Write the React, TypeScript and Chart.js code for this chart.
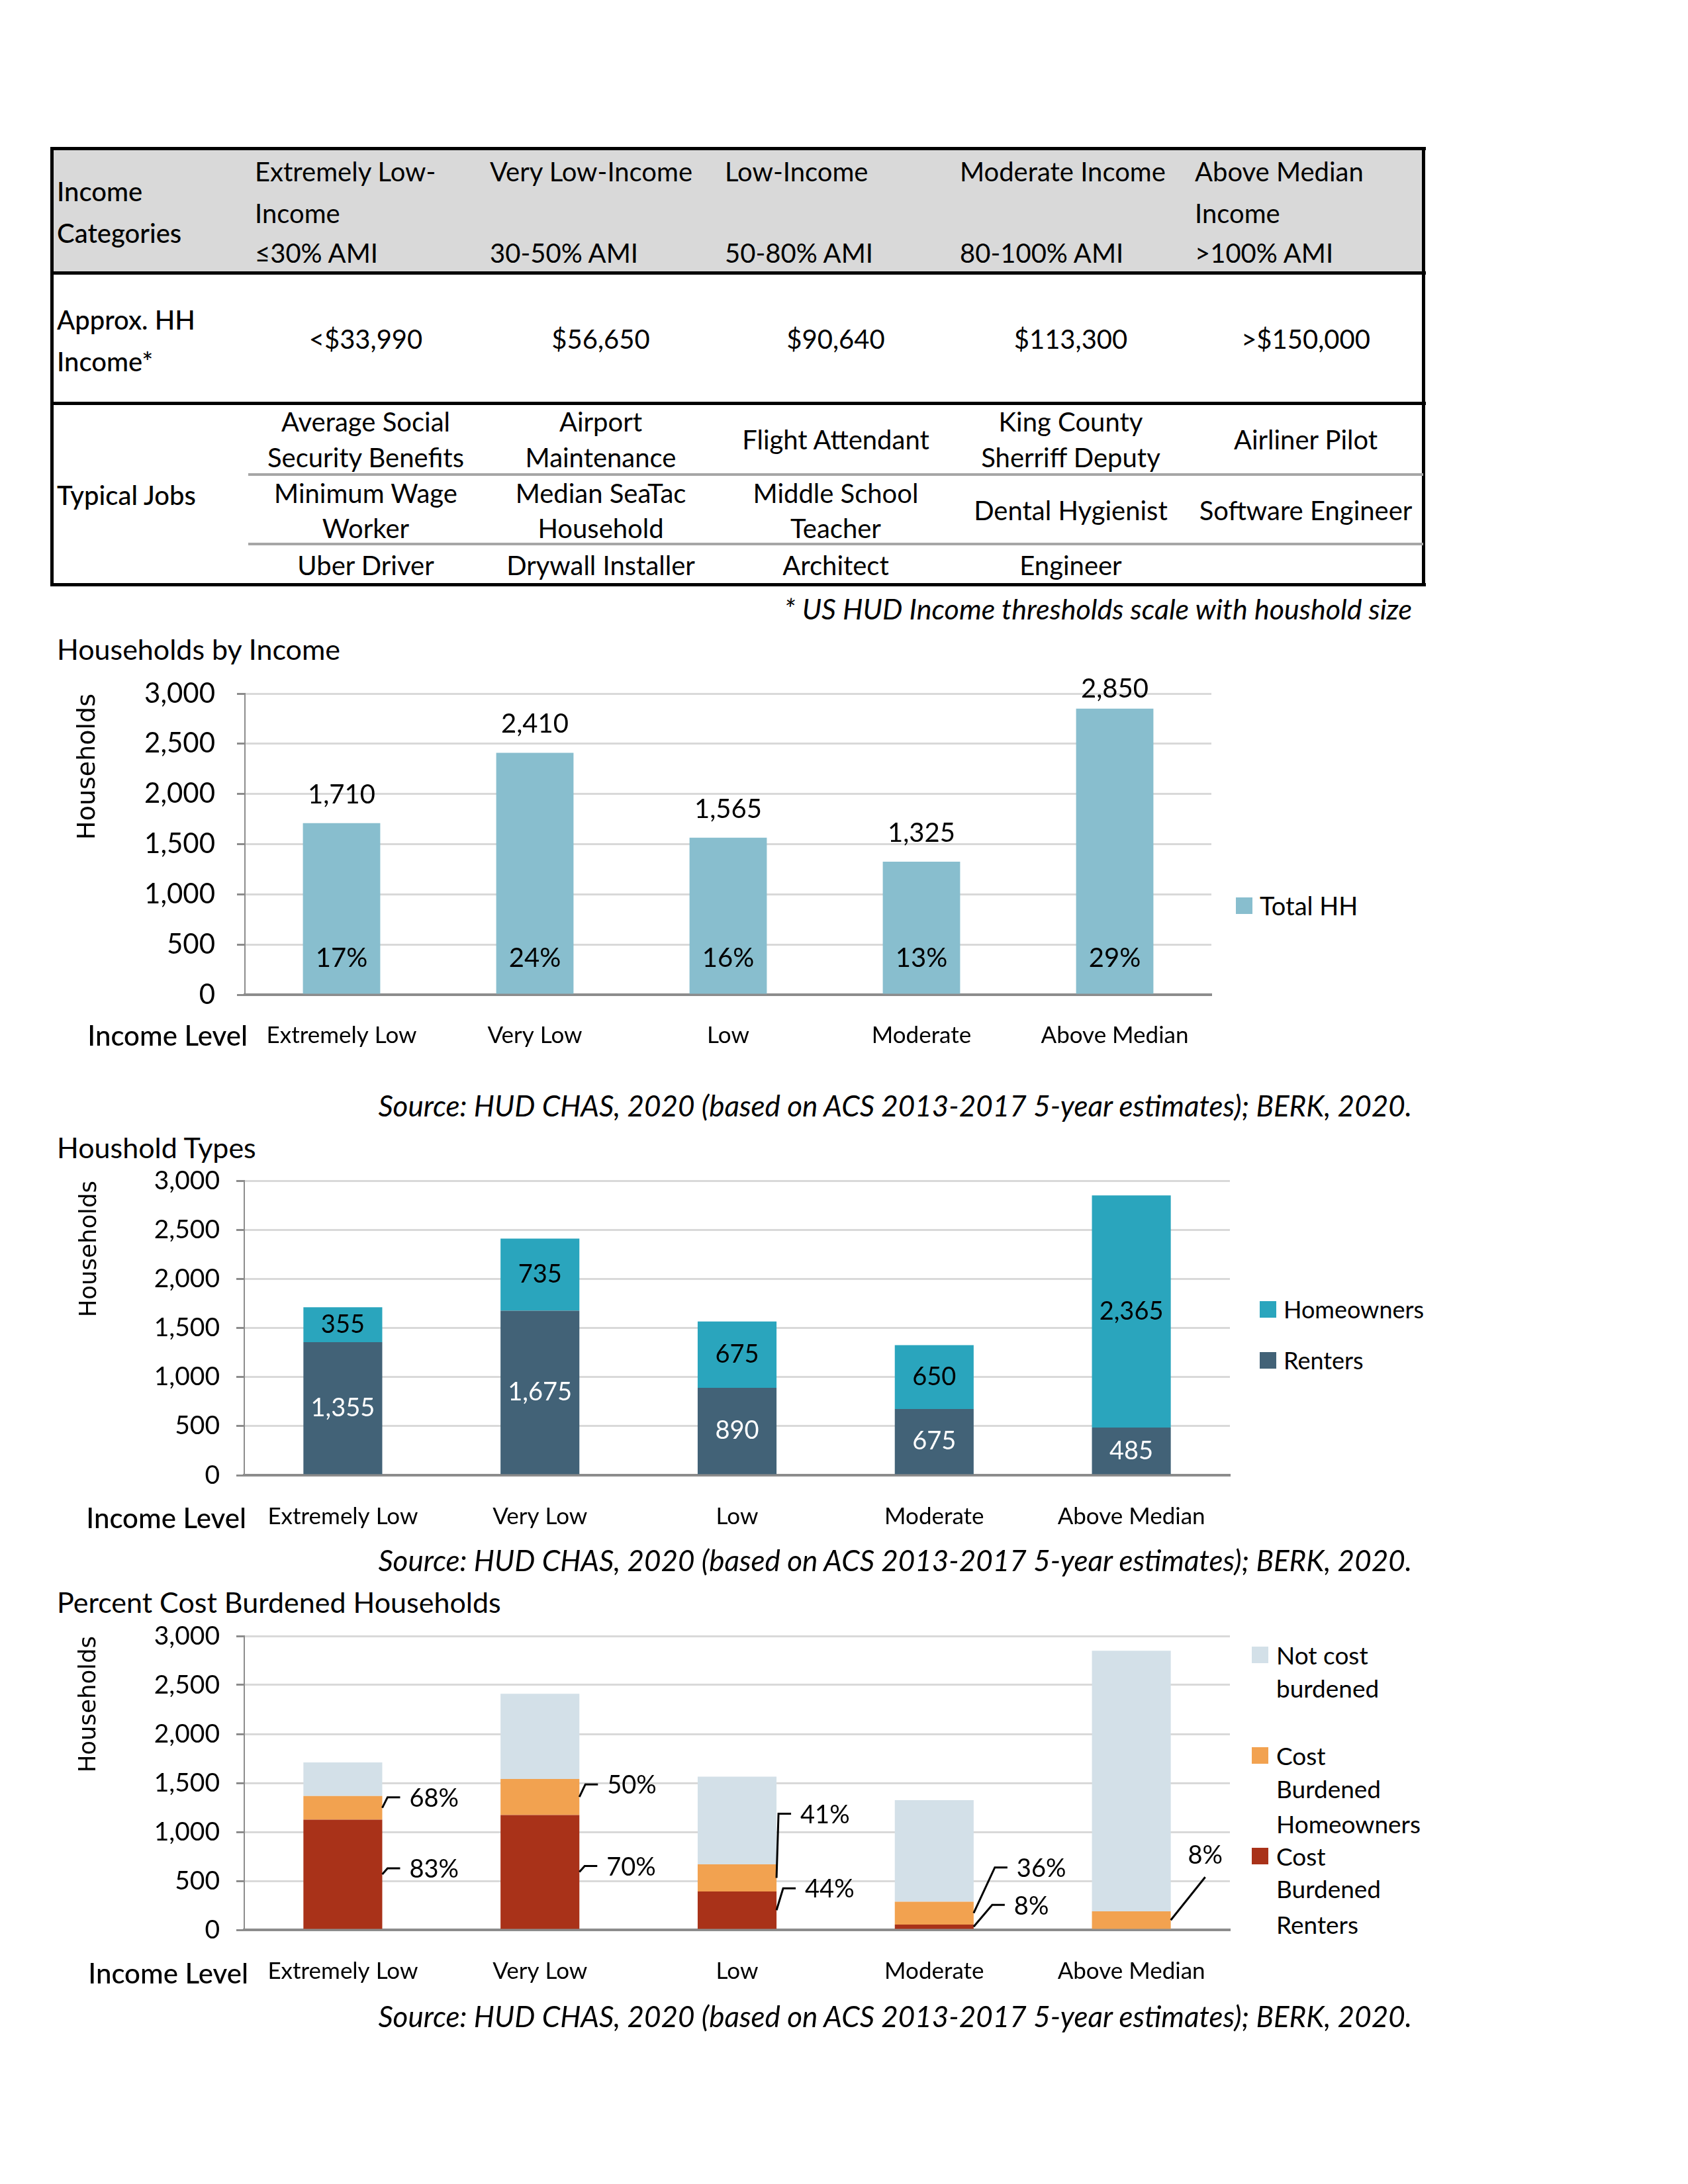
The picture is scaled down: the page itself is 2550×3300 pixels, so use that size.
import React, { useEffect, useRef } from 'react';
import { Chart, registerables } from 'chart.js';

Chart.register(...registerables);

const FONT = 'Lato, "Noto Sans", sans-serif';
const YTITLE_FONT = '"DejaVu Sans", sans-serif';
Chart.defaults.font.family = FONT;

// ---------------- data ----------------
const incomeLevels = ['Extremely Low', 'Very Low', 'Low', 'Moderate', 'Above Median'];
const totalHH = [1710, 2410, 1565, 1325, 2850];
const totalHHShare = ['17%', '24%', '16%', '13%', '29%'];

const renters = [1355, 1675, 890, 675, 485];
const homeowners = [355, 735, 675, 650, 2365];

const costBurdenedRenters = [1125, 1173, 392, 54, 0];
const costBurdenedOwners = [241, 368, 277, 234, 189];
const notCostBurdened = [344, 869, 896, 1037, 2661];
const renterBurdenPct = ['83%', '70%', '44%', '8%', ''];
const ownerBurdenPct = ['68%', '50%', '41%', '36%', '8%'];

const yMin = 0;
const yMax = 3000;
const yStep = 500;

// table
const categoryNames = [['Extremely Low-', 'Income'], ['Very Low-Income'], ['Low-Income'], ['Moderate Income'], ['Above Median', 'Income']];
const amiRanges = ['\u226430% AMI', '30-50% AMI', '50-80% AMI', '80-100% AMI', '>100% AMI'];
const hhIncome = ['<$33,990', '$56,650', '$90,640', '$113,300', '>$150,000'];
const jobsRow1 = [['Average Social', 'Security Benefits'], ['Airport', 'Maintenance'], ['Flight Attendant'], ['King County', 'Sherriff Deputy'], ['Airliner Pilot']];
const jobsRow2 = [['Minimum Wage', 'Worker'], ['Median SeaTac', 'Household'], ['Middle School', 'Teacher'], ['Dental Hygienist'], ['Software Engineer']];
const jobsRow3 = [['Uber Driver'], ['Drywall Installer'], ['Architect'], ['Engineer'], []];

const sourceText = 'Source: HUD CHAS, 2020 (based on ACS 2013-2017 5-year estimates); BERK, 2020.';

// ---------------- styles ----------------
const C_TOTAL = '#88bece';
const C_OWN = '#2aa5bd';
const C_RENT = '#426277';
const C_NOTCB = '#d3e0e8';
const C_CBOWN = '#f2a250';
const C_CBRENT = '#a93219';
const AXIS = '#8c8c8c';
const GRID = '#d9d9d9';

// leader-line layout for chart 3 labels (offsets, px)
const renterLeader: any[] = [{ bx: 8, dy: -9 }, { bx: 8, dy: -9 }, { bx: 10, dy: -33 }, { bx: 28, dy: -33 }, null];
const ownerLeader: any[] = [{ bx: 8, dy: -16 }, { bx: 9, dy: -19 }, { bx: 3, dy: -97 }, { bx: 32, dy: -69 }, { straight: true, dx: 52, dy: -65 }];

const fmt = (v: number) => v.toLocaleString('en-US');

function makeScales(o: any) {
  return {
    x: {
      stacked: o.stacked,
      grid: { display: false },
      border: { display: true, color: AXIS, width: 4 },
      ticks: { color: '#000', font: { size: o.xSize, lineHeight: 1.2 }, padding: o.xPad, maxRotation: 0, autoSkip: false },
      afterFit: (s: any) => {
        s.height = o.xHeight;
        s.paddingLeft = 0;
        s.paddingRight = 0;
      },
    },
    y: {
      stacked: o.stacked,
      min: yMin,
      max: yMax,
      ticks: { stepSize: yStep, color: '#000', font: { size: o.tickSize }, padding: o.tickPad, callback: (v: any) => fmt(Number(v)) },
      grid: {
        color: (c: any) => (c.tick && c.tick.value === 0 ? AXIS : GRID),
        lineWidth: 3,
        tickLength: 12,
        tickColor: AXIS,
        tickWidth: 3,
      },
      border: { display: true, color: AXIS, width: 2 },
      title: {
        display: true,
        text: 'Households',
        align: 'end',
        color: '#000',
        font: { family: YTITLE_FONT, size: o.titleSize, lineHeight: 1.2 },
        padding: { top: o.titlePad, bottom: 0 },
      },
      afterFit: (s: any) => {
        s.width = o.yWidth;
        s.paddingTop = 0;
        s.paddingBottom = 0;
      },
    },
  };
}

const baseOptions = (padTop: number, padRight: number) => ({
  responsive: false,
  animation: false,
  devicePixelRatio: 1,
  layout: { padding: { top: padTop, right: padRight, left: 0, bottom: 0 } },
  plugins: { legend: { display: false }, tooltip: { enabled: false } },
});

const totalLabels = {
  id: 'totalLabels',
  afterDatasetsDraw(chart: any) {
    const ctx = chart.ctx;
    const area = chart.chartArea;
    ctx.save();
    ctx.fillStyle = '#000';
    ctx.textAlign = 'center';
    ctx.textBaseline = 'middle';
    ctx.font = `40px ${FONT}`;
    chart.getDatasetMeta(0).data.forEach((bar: any, i: number) => {
      const p = bar.getProps(['x', 'y'], true);
      ctx.fillText(fmt(totalHH[i]), p.x, Math.max(p.y - 43, area.top - 7));
      ctx.fillText(totalHHShare[i], p.x, area.bottom - 55);
    });
    ctx.restore();
  },
};

const typeLabels = {
  id: 'typeLabels',
  afterDatasetsDraw(chart: any) {
    const ctx = chart.ctx;
    ctx.save();
    ctx.textAlign = 'center';
    ctx.textBaseline = 'middle';
    ctx.font = `38px ${FONT}`;
    const sets: [number, number[], string][] = [[0, renters, '#fff'], [1, homeowners, '#000']];
    sets.forEach(([di, vals, col]) => {
      ctx.fillStyle = col;
      chart.getDatasetMeta(di).data.forEach((bar: any, i: number) => {
        const p = bar.getProps(['x', 'y', 'base'], true);
        ctx.fillText(fmt(vals[i]), p.x, (p.y + p.base) / 2);
      });
    });
    ctx.restore();
  },
};

const burdenLabels = {
  id: 'burdenLabels',
  afterDatasetsDraw(chart: any) {
    const ctx = chart.ctx;
    ctx.save();
    ctx.strokeStyle = '#000';
    ctx.fillStyle = '#000';
    ctx.lineWidth = 3;
    ctx.font = `38px ${FONT}`;
    ctx.textBaseline = 'middle';
    const sets: [number, string[], any[]][] = [[0, renterBurdenPct, renterLeader], [1, ownerBurdenPct, ownerLeader]];
    sets.forEach(([di, texts, leaders]) => {
      chart.getDatasetMeta(di).data.forEach((bar: any, i: number) => {
        const t = texts[i];
        const L = leaders[i];
        if (!t || !L) return;
        const p = bar.getProps(['x', 'y', 'base', 'width'], true);
        const sx = p.x + p.width / 2;
        const sy = (p.y + p.base) / 2;
        ctx.beginPath();
        ctx.moveTo(sx, sy);
        if (L.straight) {
          const ex = sx + L.dx;
          const ey = sy + L.dy;
          ctx.lineTo(ex, ey);
          ctx.stroke();
          ctx.textAlign = 'center';
          ctx.fillText(t, ex, ey - 33);
        } else {
          const bx = sx + L.bx;
          const by = sy + L.dy;
          ctx.lineTo(bx, by);
          ctx.lineTo(bx + 19, by);
          ctx.stroke();
          ctx.textAlign = 'left';
          ctx.fillText(t, bx + 33, by + 2);
        }
      });
    });
    ctx.restore();
  },
};

const chart1Config = () => ({
  type: 'bar',
  data: {
    labels: incomeLevels,
    datasets: [{ label: 'Total HH', data: totalHH, backgroundColor: C_TOTAL, barPercentage: 0.4, categoryPercentage: 1 }],
  },
  options: {
    ...baseOptions(48, 30),
    scales: makeScales({ stacked: false, yWidth: 370, xHeight: 117, tickSize: 42, tickPad: 33, xSize: 35, xPad: 33, titleSize: 38, titlePad: 110 }),
  },
  plugins: [totalLabels],
});

const chart2Config = () => ({
  type: 'bar',
  data: {
    labels: incomeLevels,
    datasets: [
      { label: 'Renters', data: renters, backgroundColor: C_RENT, barPercentage: 0.4, categoryPercentage: 1 },
      { label: 'Homeowners', data: homeowners, backgroundColor: C_OWN, barPercentage: 0.4, categoryPercentage: 1 },
    ],
  },
  options: {
    ...baseOptions(44, 22),
    scales: makeScales({ stacked: true, yWidth: 369, xHeight: 131, tickSize: 39, tickPad: 25, xSize: 35, xPad: 34, titleSize: 35.5, titlePad: 114 }),
  },
  plugins: [typeLabels],
});

const chart3Config = () => ({
  type: 'bar',
  data: {
    labels: incomeLevels,
    datasets: [
      { label: 'Cost Burdened Renters', data: costBurdenedRenters, backgroundColor: C_CBRENT, barPercentage: 0.4, categoryPercentage: 1 },
      { label: 'Cost Burdened Homeowners', data: costBurdenedOwners, backgroundColor: C_CBOWN, barPercentage: 0.4, categoryPercentage: 1 },
      { label: 'Not cost burdened', data: notCostBurdened, backgroundColor: C_NOTCB, barPercentage: 0.4, categoryPercentage: 1 },
    ],
  },
  options: {
    ...baseOptions(42, 22),
    scales: makeScales({ stacked: true, yWidth: 369, xHeight: 134, tickSize: 39, tickPad: 25, xSize: 35, xPad: 34, titleSize: 35.5, titlePad: 113 }),
  },
  plugins: [burdenLabels],
});

function ChartBox({ left, top, width, height, make }: { left: number; top: number; width: number; height: number; make: () => any }) {
  const ref = useRef<HTMLCanvasElement>(null);
  useEffect(() => {
    if (!ref.current) return;
    const chart = new Chart(ref.current, make());
    return () => chart.destroy();
  }, []);
  return (
    <div style={{ position: 'absolute', left, top, width, height }}>
      <canvas ref={ref} width={width} height={height} style={{ display: 'block', width, height }} />
    </div>
  );
}

function Txt({ x, y, align = 'left', size = 40, weight = 400, italic = false, children }: any) {
  const tx = align === 'left' ? '0' : align === 'center' ? '-50%' : '-100%';
  return (
    <div
      style={{
        position: 'absolute',
        left: x,
        top: y,
        transform: `translate(${tx}, -50%)`,
        whiteSpace: 'nowrap',
        fontFamily: FONT,
        fontSize: size,
        fontWeight: weight,
        fontStyle: italic ? 'italic' : 'normal',
        lineHeight: 1,
        color: '#000',
      }}
    >
      {children}
    </div>
  );
}

function Box({ x, y, w, h, c }: any) {
  return <div style={{ position: 'absolute', left: x, top: y, width: w, height: h, background: c }} />;
}

const COL0 = 375;
const COLW = (2150 - 375) / 5;

function Table() {
  const centers = [0, 1, 2, 3, 4].map((i) => COL0 + COLW * i + COLW / 2);
  const multi = (lines: string[], cx: number, cy: number, gap: number) =>
    lines.map((s, k) => (
      <Txt key={s + k} x={cx} y={cy - ((lines.length - 1) * gap) / 2 + k * gap} align="center" size={40}>
        {s}
      </Txt>
    ));
  return (
    <>
      <Box x={78} y={224} w={2072} h={189} c="#d9d9d9" />
      <Box x={76} y={222} w={2078} h={5} c="#000" />
      <Box x={76} y={410} w={2078} h={5} c="#000" />
      <Box x={76} y={607} w={2078} h={5} c="#000" />
      <Box x={76} y={881} w={2078} h={5} c="#000" />
      <Box x={76} y={222} w={5} h={664} c="#000" />
      <Box x={2148} y={222} w={5} h={664} c="#000" />
      <Box x={375} y={715} w={1775} h={4} c="#a6a6a6" />
      <Box x={375} y={820} w={1775} h={4} c="#a6a6a6" />

      <Txt x={86} y={289} size={40} weight={500}>Income</Txt>
      <Txt x={86} y={352} size={40} weight={500}>Categories</Txt>
      {categoryNames.map((lines, i) => (
        <React.Fragment key={'h' + i}>
          <Txt x={COL0 + COLW * i + 10} y={259} size={40}>{lines[0]}</Txt>
          {lines[1] ? <Txt x={COL0 + COLW * i + 10} y={322} size={40}>{lines[1]}</Txt> : null}
          <Txt x={COL0 + COLW * i + 10} y={382} size={40}>{amiRanges[i]}</Txt>
        </React.Fragment>
      ))}

      <Txt x={86} y={483} size={40} weight={500}>Approx. HH</Txt>
      <Txt x={86} y={546} size={40} weight={500}>Income*</Txt>
      {hhIncome.map((s, i) => (
        <Txt key={'inc' + i} x={centers[i]} y={512} align="center" size={40}>{s}</Txt>
      ))}

      <Txt x={86} y={748} size={40} weight={500}>Typical Jobs</Txt>
      {jobsRow1.map((l, i) => <React.Fragment key={'j1' + i}>{multi(l, centers[i], 664, 54)}</React.Fragment>)}
      {jobsRow2.map((l, i) => <React.Fragment key={'j2' + i}>{multi(l, centers[i], 771, 53)}</React.Fragment>)}
      {jobsRow3.map((l, i) => <React.Fragment key={'j3' + i}>{multi(l, centers[i], 854, 53)}</React.Fragment>)}
    </>
  );
}

function Swatch({ x, y, c }: any) {
  return <div style={{ position: 'absolute', left: x, top: y - 12, width: 25, height: 25, background: c }} />;
}

export default function App() {
  return (
    <div style={{ position: 'absolute', left: 0, top: 0, width: 2550, height: 3300, background: '#fff', overflow: 'hidden' }}>
      <Table />
      <Txt x={2133} y={919} align="right" size={43} italic>* US HUD Income thresholds scale with houshold size</Txt>

      {/* Chart 1 */}
      <Txt x={86} y={980} size={43}>Households by Income</Txt>
      <ChartBox left={0} top={1000} width={1860} height={620} make={chart1Config} />
      <Txt x={374} y={1564} align="right" size={42} weight={500}>Income Level</Txt>
      <Swatch x={1867} y={1368} c={C_TOTAL} />
      <Txt x={1903} y={1368} size={38}>Total HH</Txt>
      <Txt x={2133} y={1670} align="right" size={44} italic>{sourceText}</Txt>

      {/* Chart 2 */}
      <Txt x={86} y={1733} size={43}>Houshold Types</Txt>
      <ChartBox left={0} top={1740} width={1880} height={620} make={chart2Config} />
      <Txt x={372} y={2293} align="right" size={42} weight={500}>Income Level</Txt>
      <Swatch x={1903} y={1978} c={C_OWN} />
      <Txt x={1939} y={1978} size={36}>Homeowners</Txt>
      <Swatch x={1903} y={2055} c={C_RENT} />
      <Txt x={1939} y={2055} size={36}>Renters</Txt>
      <Txt x={2133} y={2357} align="right" size={44} italic>{sourceText}</Txt>

      {/* Chart 3 */}
      <Txt x={86} y={2420} size={43}>Percent Cost Burdened Households</Txt>
      <ChartBox left={0} top={2430} width={1880} height={620} make={chart3Config} />
      <Txt x={375} y={2981} align="right" size={42} weight={500}>Income Level</Txt>
      <Swatch x={1891} y={2500} c={C_NOTCB} />
      <Txt x={1928} y={2500} size={37}>Not cost</Txt>
      <Txt x={1928} y={2550} size={37}>burdened</Txt>
      <Swatch x={1891} y={2652} c={C_CBOWN} />
      <Txt x={1928} y={2652} size={37}>Cost</Txt>
      <Txt x={1928} y={2702} size={37}>Burdened</Txt>
      <Txt x={1928} y={2755} size={37}>Homeowners</Txt>
      <Swatch x={1891} y={2804} c={C_CBRENT} />
      <Txt x={1928} y={2804} size={37}>Cost</Txt>
      <Txt x={1928} y={2853} size={37}>Burdened</Txt>
      <Txt x={1928} y={2907} size={37}>Renters</Txt>
      <Txt x={2133} y={3046} align="right" size={44} italic>{sourceText}</Txt>
    </div>
  );
}
